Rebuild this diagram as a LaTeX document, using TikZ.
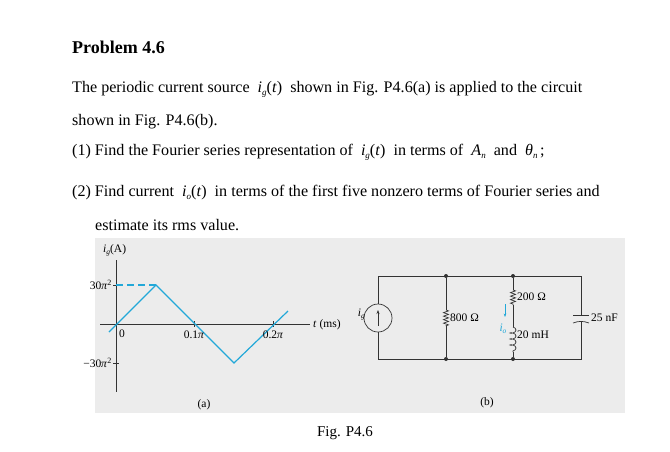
\documentclass[tikz,border=0pt]{standalone}
\usepackage{fontspec}
\setmainfont{Liberation Serif}
\usetikzlibrary{decorations.pathmorphing,arrows.meta}
\definecolor{wave}{HTML}{22A8D8}
\definecolor{panel}{HTML}{ECECEC}
\newcommand{\ti}[1]{\textit{#1}}
\newcommand{\sbx}[1]{\raisebox{-3pt}{\fontsize{9}{10}\selectfont\textit{#1}}}
\newcommand{\sbs}[1]{\raisebox{-2pt}{\fontsize{7.5}{9}\selectfont\textit{#1}}}
\begin{document}
\begin{tikzpicture}[x=1pt,y=-1pt,
  txt/.style={anchor=base west,inner sep=0,font=\fontsize{16.1}{18}\selectfont},
  sm/.style={inner sep=1pt,font=\fontsize{11.5}{13}\selectfont},
  wire/.style={line width=0.7pt,black!80},
  res/.style={wire,decorate,decoration={zigzag,amplitude=2.5pt,segment length=3.5pt}},
  ind/.style={wire,decorate,decoration={coil,amplitude=3pt,segment length=6pt,aspect=0.5}},
  dot/.style={circle,fill=black!80,inner sep=0,minimum size=4pt}]
\useasboundingbox (0,0) rectangle (670,451);
\fill[white] (0,0) rectangle (670,451);
\fill[panel] (95,238) rectangle (625,413);
\node[txt,font=\fontsize{18}{20}\selectfont\bfseries] (title) at (72,53) {Problem 4.6};
\node[txt] (l1) at (72,92) {The periodic current source \ \ti{i}\sbx{g}(\ti{t}) \ shown in Fig. P4.6(a) is applied to the circuit};
\node[txt] (l2) at (72,125) {shown in Fig. P4.6(b).};
\node[txt] (l3) at (72,155) {(1) Find the Fourier series representation of \ \ti{i}\sbx{g}(\ti{t}) \ in terms of \ \ti{A}\sbx{n} \ and \ \ti{θ}\sbx{n}\,;};
\node[txt] (l4) at (72,196) {(2) Find current \ \ti{i}\sbx{o}(\ti{t}) \ in terms of the first five nonzero terms of Fourier series and};
\node[txt] (l5) at (95,230) {estimate its rms value.};
% graph (a)
\draw[wire] (116,260) -- (116,392);
\draw[wire] (100,324) -- (310,324);
\draw[wire] (113,285) -- (116,285);
\draw[wire] (113,363) -- (119,363);
\draw[wire] (194,321) -- (194,327);
\draw[wire] (273,321) -- (273,327);
\draw[wave,line width=1.2pt,dash pattern=on 7pt off 4pt] (116,285) -- (156,285);
\draw[wave,line width=1.2pt] (109,332) -- (156,285) -- (234,363) -- (288,311);
\node[sm,anchor=west] (ig) at (102,250) {\ti{i}\sbs{g}(A)};
\node[sm,anchor=east] (p) at (113,285) {30\ti{π}\textsuperscript{2}};
\node[sm,anchor=east] (m) at (113,363) {−30\ti{π}\textsuperscript{2}};
\node[sm] (z) at (122,334) {0};
\node[sm] (a1) at (194,335) {0.1\ti{π}};
\node[sm] (a2) at (273,335) {0.2\ti{π}};
\node[sm,anchor=west] (tm) at (312,325) {\ti{t} (ms)};
\node[sm] (la) at (204,405) {(a)};
% circuit (b)
\coordinate (TL) at (378,276); \coordinate (BL) at (378,359);
\coordinate (TR) at (581,276); \coordinate (BR) at (581,359);
\node[dot] (n1) at (446,276) {}; \node[dot] (n2) at (513,276) {};
\node[dot] (n3) at (446,359) {}; \node[dot] (n4) at (513,359) {};
\node[circle,draw=black!80,line width=0.7pt,minimum size=28pt,inner sep=0] (src) at (378,318) {};
\draw[wire] (src.north) -- (TL) -- (TR) -- (581,315);
\draw[wire] (src.south) -- (BL) -- (BR) -- (581,321);
\draw[wire,-{Stealth[length=4pt]}] (378,326) -- (378,310);
\draw[wire] (573,315) -- (589,315);
\draw[wire] (573,323) to[bend left=20] (589,323);
\draw[wire] (581,322) -- (BR);
\draw[wire] (n1) -- (446,310); \draw[res] (446,310) -- (446,326); \draw[wire] (446,326) -- (n3);
\draw[wire] (n2) -- (513,290); \draw[res] (513,290) -- (513,305); \draw[wire] (513,305) -- (513,327);
\draw[ind] (513,327) -- (513,352); \draw[wire] (513,352) -- (n4);
\draw[wave,line width=0.9pt,-{Stealth[length=3.5pt]}] (505,304) -- (505,317);
\node[sm,text=wave] (io) at (503,329) {\ti{i}\sbs{o}};
\node[sm,anchor=east] (igl) at (366,314) {\ti{i}\sbs{g}};
\node[sm,anchor=west] (r8) at (449,318) {800 Ω};
\node[sm,anchor=west] (r2) at (516,297) {200 Ω};
\node[sm,anchor=west] (l20) at (516,335) {20 mH};
\node[sm,anchor=west] (c25) at (590,318) {25 nF};
\node[sm] (lb) at (487,403) {(b)};
\node[inner sep=0,font=\fontsize{15}{17}\selectfont] (fig) at (345,433) {Fig. P4.6};
\end{tikzpicture}
\end{document}
